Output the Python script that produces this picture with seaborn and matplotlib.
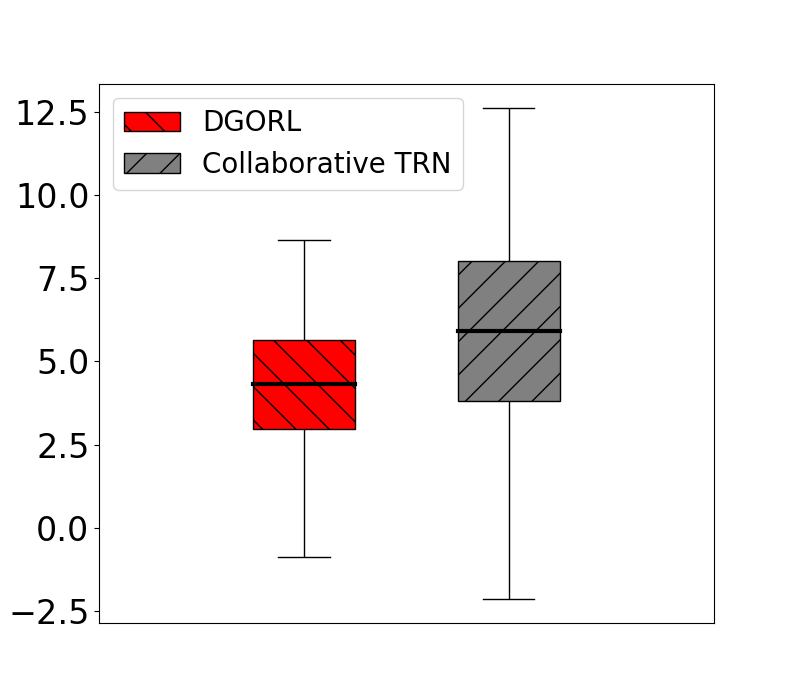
import matplotlib
matplotlib.use("Agg")
import matplotlib.pyplot as plt
import seaborn as sns
import pandas as pd

# ---------------- Data ----------------
methods = ["DGORL", "Collaborative TRN"]
# five-number summaries: min, q1, median, q3, max
dgorl_vals = [-0.87, 2.98, 4.33, 5.66, 8.66]
trn_vals = [-2.14, 3.82, 5.93, 8.01, 12.62]
colors = ["red", "gray"]
hatches = ["\\", "/"]

df = pd.DataFrame({
    "method": [methods[0]] * len(dgorl_vals) + [methods[1]] * len(trn_vals),
    "value": dgorl_vals + trn_vals,
})

fig, ax = plt.subplots(figsize=(7.93, 7), dpi=100)

sns.boxplot(
    data=df, x="method", y="value", hue="method",
    palette=colors, saturation=1, width=0.5, whis=(0, 100),
    linecolor="black", linewidth=1,
    medianprops={"color": "black", "linewidth": 3, "solid_capstyle": "projecting"},
    legend=False, ax=ax,
)

for patch, h in zip(ax.patches, hatches):
    patch.set_hatch(h)

ax.set_xlim(-1, 2)
ax.set_ylim(-2.86, 13.34)
ax.set_xticks([])
ax.set_xlabel("")
ax.set_ylabel("")
ax.tick_params(axis="y", labelsize=24)

ax.legend(handles=ax.patches[:2], labels=methods, loc="upper left", fontsize=20)

fig.savefig("out.png", dpi=100)
